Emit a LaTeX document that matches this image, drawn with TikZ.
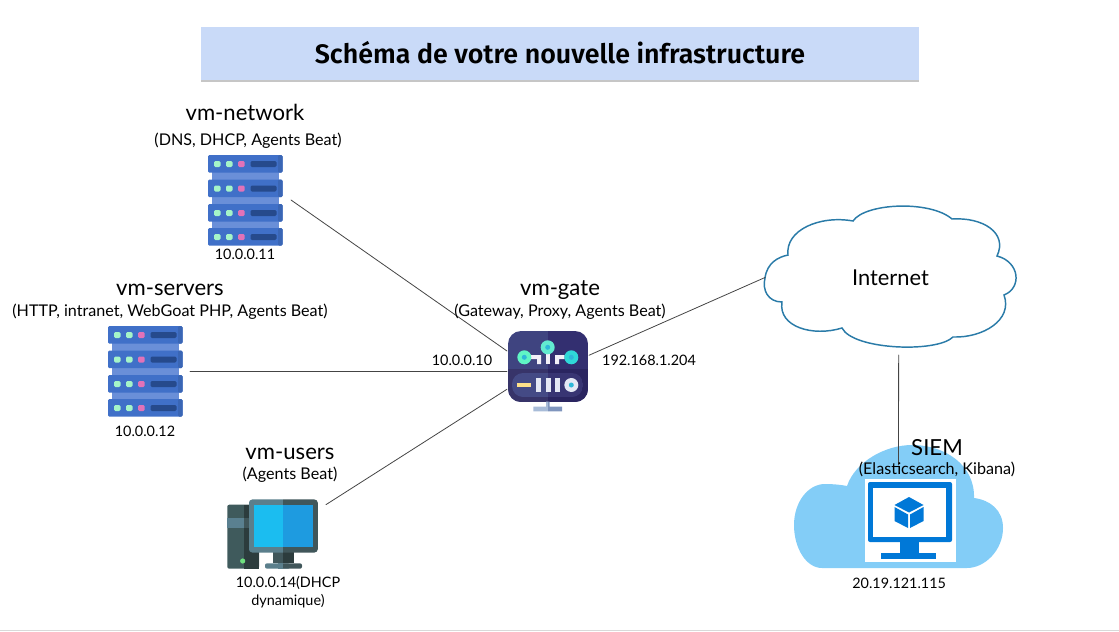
\documentclass[tikz,border=0pt]{standalone}
\usepackage{fontspec}
\setmainfont{Lato}
\newfontfamily\titlefont{Fira Sans SemiBold}
\usetikzlibrary{shadows}

\def\px{0.75pt}

\definecolor{titleblue}{HTML}{C9DAF8}
\definecolor{linegray}{HTML}{444444}
\definecolor{cloudline}{HTML}{2A7BA8}
\definecolor{cloudblue}{HTML}{83CDF7}
\definecolor{azure}{HTML}{0078D7}
\definecolor{srvbody}{HTML}{4070C8}
\definecolor{srvedge}{HTML}{3A66B5}
\definecolor{srvlink}{HTML}{6A8FD8}
\definecolor{srvgreen}{HTML}{A5F5C8}
\definecolor{srvpink}{HTML}{E272B8}
\definecolor{srvbar}{HTML}{264A8C}

\tikzset{
	hex/.code={\definecolor{hexcol}{HTML}{#1}\pgfkeysalso{fill=hexcol}},
	bigtext/.style={font=\fontsize{16.6pt}{19pt}\selectfont},
	subtext/.style={font=\fontsize{12.1pt}{14pt}\selectfont},
	addrtext/.style={font=\fontsize{10.8pt}{13pt}\selectfont,align=center},
	iconbox/.style={inner sep=0pt,outer sep=0pt},
	% one rack of four units, origin at its top left corner
	pics/servericon/.style={code={
		\fill[srvlink] (4, 10) rectangle (71, 80);
		\foreach \y in {0, 24.5, 49, 73} {
			\fill[srvbody,rounded corners=1pt] (0, \y) rectangle (74.5, \y+17.7);
			\fill[srvedge,rounded corners=1pt] (70, \y) rectangle (74.5, \y+17.7);
			\fill[srvgreen,rounded corners=1pt] (6, \y+6) rectangle (12.5, \y+12);
			\fill[srvgreen,rounded corners=1pt] (18, \y+6) rectangle (24.5, \y+12);
			\fill[srvpink,rounded corners=1pt] (30, \y+6) rectangle (36.7, \y+12);
			\fill[srvbar,rounded corners=1pt] (42.5, \y+6) rectangle (68.5, \y+12);
		}
	}},
}

\begin{document}
\begin{tikzpicture}[x=\px,y=-\px,cap=round]
	\useasboundingbox (0, 0) rectangle (1119, 631);

	% page edge
	\draw[black!15] (0, 630) -- (1119, 630);

	% title
	\node[fill=titleblue,minimum width=718*\px,minimum height=53*\px,inner sep=0pt,
		drop shadow={shadow xshift=0pt,shadow yshift=-1.8pt,opacity=0.45},
		font=\titlefont\fontsize{20.1pt}{22pt}\selectfont] (title) at (560, 53.5) {\raisebox{1.5pt}{Schéma de votre nouvelle infrastructure}};

	% the two racks
	\pic at (208, 155) {servericon};
	\pic at (108, 326) {servericon};

	% gate: body, lower band and pill
	\begin{scope}
		\clip[rounded corners=13*\px] (508, 331) rectangle (588, 402);
		\fill[hex=3F4480] (508, 331) rectangle (548, 402);
		\fill[hex=332F70] (548, 331) rectangle (588, 402);
		\fill[hex=373469] (508, 369) rectangle (548, 402);
		\fill[hex=2A2560] (548, 369) rectangle (588, 402);
	\end{scope}
	\begin{scope}
		\clip[rounded corners=11*\px] (512, 373) rectangle (583, 397);
		\fill[hex=444A85] (512, 373) rectangle (548, 397);
		\fill[hex=383573] (548, 373) rectangle (583, 397);
	\end{scope}
	% gate: white traces
	\fill[hex=F2F0F8] (545.7, 350) rectangle (550, 364);
	\fill[hex=F2F0F8] (531, 355) rectangle (541, 359) (537, 355) rectangle (541, 364);
	\fill[hex=F2F0F8] (555, 355) rectangle (564.5, 359) (555, 355) rectangle (559, 364);
	% gate: three dots with their centres
	\foreach \x / \y / \col in {524.3 / 357.3 / 5FF5C5, 547.7 / 347.3 / 62EAD0, 571.3 / 357.3 / 2FD8D8} {
		\fill[hex=\col] (\x, \y) circle (7*\px);
		\fill[hex=2FB8D8] (\x, \y) circle (2.5*\px);
	}
	% gate: front panel
	\fill[hex=FDE08A] (517.3, 383.3) rectangle (531, 387.3);
	\foreach \x in {536, 545.7, 555} {
		\fill[hex=E4E8F4] (\x, 378.3) rectangle (\x+4.8, 392.3);
	}
	\fill[hex=E4E8F4] (571.3, 385) circle (7*\px);
	\fill[hex=2FB8D8] (571.3, 385) circle (2.5*\px);
	% gate: foot
	\fill[hex=A8BCD8] (546, 401.7) rectangle (548, 407) (533.3, 406.7) rectangle (548, 411.3);
	\fill[hex=7F95BD] (548, 401.7) rectangle (549.5, 407) (548, 406.7) rectangle (562, 411.3);

	% desktop: tower
	\fill[hex=3F5A5C,rounded corners=1.5pt] (227.3, 504.7) rectangle (259, 568.7);
	\fill[hex=2C3C3D] (243.5, 504.7) rectangle (259, 568.7);
	\fill[hex=5A8090] (227.3, 518) rectangle (243.5, 528);
	\fill[hex=40565A] (243.5, 518) rectangle (259, 528);
	\fill[hex=6FE07F] (242.7, 561) circle (2.6*\px);
	% desktop: screen and foot
	\fill[hex=40565A] (272.7, 552) rectangle (283.3, 563.3);
	\fill[hex=2C3C3D] (283.3, 552) rectangle (294.3, 563.3);
	\fill[hex=5B7F8C,rounded corners=1.5pt] (265, 563.3) rectangle (290, 568.7);
	\fill[hex=40565A,rounded corners=1.5pt] (278, 563.3) rectangle (302, 568.7);
	\fill[hex=5B7F8C] (278, 563.3) rectangle (283.3, 568.7);
	\begin{scope}
		\clip[rounded corners=3pt] (248.7, 499.3) rectangle (318, 552.7);
		\fill[hex=5B7F8C] (248.7, 499.3) rectangle (283.3, 552.7);
		\fill[hex=40565A] (283.3, 499.3) rectangle (318, 552.7);
	\end{scope}
	\fill[hex=1BBDF0] (254, 504.7) rectangle (283.3, 547.3);
	\fill[hex=1E9BE0] (283.3, 504.7) rectangle (312.7, 547.3);

	% SIEM cloud
	\fill[cloudblue] (822, 568) .. controls (806, 568) and (794, 548) .. (794, 525)
		.. controls (794, 502) and (808, 484) .. (825, 484)
		.. controls (834, 484) and (842, 485) .. (847, 486)
		.. controls (855, 462) and (885, 445) .. (912, 445)
		.. controls (945, 445) and (975, 465) .. (974, 498)
		.. controls (990, 500) and (1003, 510) .. (1003, 528)
		.. controls (1003, 550) and (985, 568) .. (967, 568) -- cycle;
	% SIEM monitor on its white square
	\fill[white] (865, 479) rectangle (956, 562);
	\fill[azure,rounded corners=1.5pt] (868, 482) rectangle (952, 542);
	\fill[white] (873, 488) rectangle (946, 537);
	\fill[azure] (900, 542) rectangle (919, 553);
	\fill[azure] (881, 553) -- (936, 553) -- (936, 559) -- (881, 559) -- cycle;
	\fill[azure] (909, 497) -- (923.5, 505) -- (909, 512.5) -- (894.5, 505) -- cycle;
	\fill[azure] (894.5, 507) -- (908, 514.5) -- (908, 528) -- (894.5, 521) -- cycle;
	\fill[azure] (923.5, 507) -- (910, 514.5) -- (910, 528) -- (923.5, 521) -- cycle;

	% Internet cloud
	\draw[cloudline,line width=1.1pt,fill=white] (765, 278) .. controls (767, 263) and (778, 257) .. (788, 255)
		.. controls (785, 230) and (820, 215) .. (853, 221)
		.. controls (865, 203) and (930, 200) .. (952, 219)
		.. controls (983, 217) and (1008, 233) .. (997, 256)
		.. controls (1020, 262) and (1022, 288) .. (1004, 295)
		.. controls (1013, 320) and (983, 338) .. (953, 337)
		.. controls (937, 353) and (853, 350) .. (842, 328)
		.. controls (813, 337) and (778, 327) .. (782, 302)
		.. controls (768, 302) and (762, 290) .. (765, 278) -- cycle;

	% boxes the connectors attach to
	\node[iconbox,minimum width=92*\px,minimum height=90*\px] (network) at (245, 200) {};
	\node[iconbox,minimum width=90*\px,minimum height=90*\px] (servers) at (145, 371) {};
	\node[iconbox,minimum width=106*\px,minimum height=70*\px] (users) at (273, 534) {};
	\node[iconbox,minimum width=82*\px,minimum height=80*\px] (gate) at (548, 371) {};
	\node[iconbox,minimum width=251*\px,minimum height=155*\px,font=\fontsize{16.4pt}{18pt}\selectfont] (internet) at (890.5, 277.5) {Internet};
	\node[iconbox,minimum width=209*\px,minimum height=103*\px] (siem) at (898.5, 516.5) {};

	% connectors
	\draw[linegray,line width=0.6pt] (network.east) -- (gate.154);
	\draw[linegray,line width=0.6pt] (servers.east) -- (gate.west);
	\draw[linegray,line width=0.6pt] (users.29) -- (gate.204);
	\draw[linegray,line width=0.6pt] (gate.21) -- (internet.west);
	\draw[linegray,line width=0.6pt] (internet.-84) -- (siem.north);

	% names, roles and addresses
	\foreach \nm / \x / \y / \xtext in {
		lnetwork / 245 / 112 / vm-network,
		lservers / 170 / 290 / vm-servers,
		lgate / 560 / 290 / vm-gate,
		lusers / 290 / 454 / vm-users,
		lsiem / 937 / 448 / SIEM
	} {
		\node[bigtext] (\nm) at (\x, \y) {\xtext};
	}
	\foreach \nm / \x / \y / \xtext in {
		rnetwork / 248 / 141 / {(DNS, DHCP, Agents Beat)},
		rservers / 170 / 311.5 / {(HTTP, intranet, WebGoat PHP, Agents Beat)},
		rgate / 560 / 311.5 / {(Gateway, Proxy, Agents Beat)},
		rusers / 290 / 475 / {(Agents Beat)},
		rsiem / 937 / 469 / {(Elasticsearch, Kibana)}
	} {
		\node[subtext] (\nm) at (\x, \y) {\xtext};
	}
	\foreach \nm / \x / \y / \xtext in {
		anetwork / 245 / 254 / 10.0.0.11,
		aservers / 145 / 431 / 10.0.0.12,
		agatein / 462 / 360 / 10.0.0.10,
		agateout / 649 / 360 / 192.168.1.204,
		asiem / 901 / 583 / 20.19.121.115
	} {
		\node[addrtext] (\nm) at (\x, \y) {\xtext};
	}
	\node[addrtext] (ausers) at (288, 592) {10.0.0.14(DHCP\\dynamique)};
\end{tikzpicture}
\end{document}
